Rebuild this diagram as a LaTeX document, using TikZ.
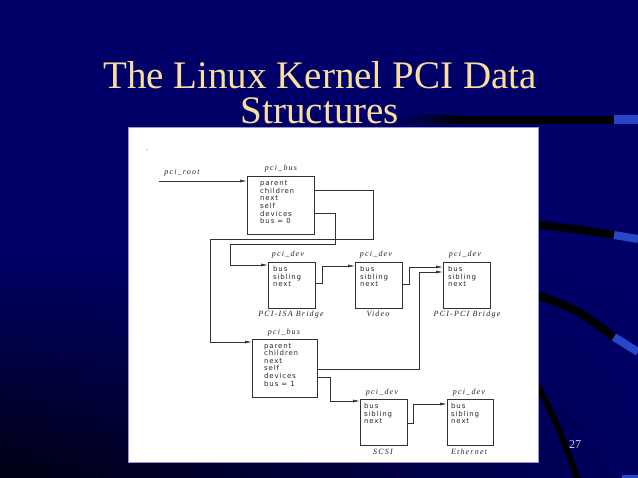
\documentclass[tikz,border=0pt]{standalone}
\usepackage{fontspec}
\setmainfont{Liberation Serif}
\newfontfamily\fieldfont[LetterSpace=12]{DejaVu Sans}
\newfontfamily\labfont[LetterSpace=15]{Liberation Serif}
\usetikzlibrary{arrows.meta,calc,fadings}
\definecolor{navy}{RGB}{0,0,104}
\definecolor{navydark}{RGB}{0,0,18}
\definecolor{titlecol}{RGB}{250,222,160}
\definecolor{barblue}{RGB}{40,70,200}
\definecolor{barlight}{RGB}{90,120,235}
\definecolor{linecol}{RGB}{50,50,50}
\definecolor{panelborder}{RGB}{150,150,200}
\tikzfading[name=fadetoright, left color=transparent!0, right color=transparent!100]
\tikzset{
  box/.style={draw=linecol, line width=0.7pt, anchor=north west, inner sep=0pt},
  busbox/.style={box, minimum width=67pt, minimum height=58pt},
  devbox/.style={box, minimum width=47pt, minimum height=46pt},
  fields/.style={anchor=north west, inner sep=0pt, align=left, text=black!85,
    font=\fieldfont\fontsize{7}{7.6}\selectfont},
  lab/.style={inner sep=0pt, text=black!85, font=\labfont\itshape\fontsize{8}{8}\selectfont},
  title/.style={anchor=north, inner sep=0pt, align=center, text=titlecol, font=\fontsize{39}{35}\selectfont},
  conn/.style={draw=linecol, line width=0.7pt},
  arr/.style={conn, -{Latex[length=7pt,width=3pt]}},
  bar/.style={line width=8pt, black},
  barend/.style={line width=8pt, barblue}
}
\begin{document}
\begin{tikzpicture}[x=1pt,y=-1pt]
\useasboundingbox (0,0) rectangle (638,478);
% background
\fill[navy] (0,0) rectangle (638,478);
\shade[top color=navy, bottom color=navydark, path fading=fadetoright] (0,250) rectangle (700,478);
% decorative bars on the right
\shade[left color=navy, right color=black] (395,116) rectangle (460,124);
\fill[black] (460,116) rectangle (614,124);
\shade[top color=barblue, middle color=barlight, bottom color=barblue] (614,116) rectangle (638,124);
\draw[bar] (530,224) .. controls (570,228) .. (614,235);
\draw[barend] (614,235) -- (638,239);
\draw[bar] (530,293) .. controls (575,308) .. (614,337);
\draw[barend] (614,337) -- (638,352);
\draw[line width=6pt, black] (535,380) .. controls (558,425) .. (578,480);
\draw[line width=4pt, barblue] (622,477) -- (638,477);
% title
\node[title] (title) at (320,61.5) {The Linux Kernel PCI Data\\Structures};
% page number
\node[anchor=base, text=black!15, font=\fontsize{12}{12}\selectfont] (pn) at (575,449) {27};
% panel
\fill[white] (128,127) rectangle (538,462);
\draw[panelborder, line width=0.6pt] (128,127) rectangle (538,462);
\fill[black!60] (147,150) circle (0.6pt);
% boxes
\node[busbox] (bus1) at (247,176) {};
\node[devbox] (isa) at (268,262) {};
\node[devbox] (video) at (355,262) {};
\node[devbox] (ppb) at (443,262) {};
\node[busbox, minimum width=65pt] (bus2) at (252,339) {};
\node[devbox] (scsi) at (360,399) {};
\node[devbox, minimum width=46pt] (eth) at (447,399) {};
% field texts
\node[fields] (bus1f) at (260,180.5) {parent\\children\\next\\self\\devices\\bus = 0};
\node[fields] (bus2f) at (264,343) {parent\\children\\next\\self\\devices\\bus = 1};
\node[fields] (isaf) at (273,266) {bus\\sibling\\next};
\node[fields] (videof) at (360,266) {bus\\sibling\\next};
\node[fields] (ppbf) at (448,266) {bus\\sibling\\next};
\node[fields] (scsif) at (364,403) {bus\\sibling\\next};
\node[fields] (ethf) at (451,403) {bus\\sibling\\next};
% labels
\node[lab] (lroot) at (182,173) {pci\_root};
\node[lab] (lbus1) at (281,169) {pci\_bus};
\node[lab] (lbus2) at (284,333) {pci\_bus};
\node[lab] (lisa) at (288,255) {pci\_dev};
\node[lab] (lvideo) at (376,255) {pci\_dev};
\node[lab] (lppb) at (465,255) {pci\_dev};
\node[lab] (lscsi) at (382,393) {pci\_dev};
\node[lab] (leth) at (469,393) {pci\_dev};
\node[lab] (nisa) at (291,315) {PCI-ISA Bridge};
\node[lab] (nvideo) at (378,314) {Video};
\node[lab] (nppb) at (467,315) {PCI-PCI Bridge};
\node[lab] (nscsi) at (383,452) {SCSI};
\node[lab] (neth) at (469,452) {Ethernet};
% connectors
\coordinate (root) at (159,181);
\draw[arr] (root) -- (bus1.west |- root);
\draw[arr] (bus1.east |- 0,190) -| (373,239) -| (210,342) -- (bus2.west |- 0,342);
\draw[arr] (bus1.east |- 0,213) -| (335,244) -| (230,265) -- (isa.west |- 0,265);
\draw[arr] (isa.east |- 0,283) -| (322,266) -- (video.west |- 0,266);
\draw[arr] (video.east |- 0,284) -| (409,267) -- (ppb.west |- 0,267);
\draw[arr] (bus2.east |- 0,369) -| (419,272) -- (ppb.west |- 0,272);
\draw[arr] (bus2.east |- 0,377) -| (330,401) -- (scsi.west |- 0,401);
\draw[arr] (scsi.east |- 0,423) -| (413,404) -- (eth.west |- 0,404);
\end{tikzpicture}
\end{document}
